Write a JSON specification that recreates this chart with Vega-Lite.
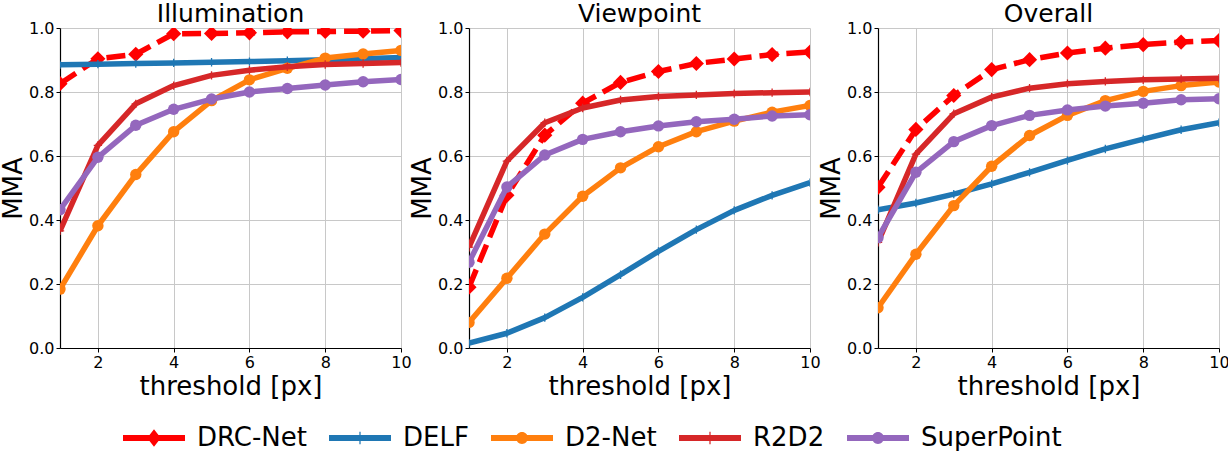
{
  "$schema": "https://vega.github.io/schema/vega-lite/v6.json",
  "background": "white",
  "padding": {"left": 0, "top": 2, "right": 0, "bottom": 0},
  "bounds": "flush",
  "spacing": 68,
  "data": {"values": [
    {"panel":"Illumination","method":"DRC-Net","x":1,"mma":0.826},{"panel":"Illumination","method":"DRC-Net","x":2,"mma":0.904},{"panel":"Illumination","method":"DRC-Net","x":3,"mma":0.918},{"panel":"Illumination","method":"DRC-Net","x":4,"mma":0.982},{"panel":"Illumination","method":"DRC-Net","x":5,"mma":0.983},{"panel":"Illumination","method":"DRC-Net","x":6,"mma":0.985},{"panel":"Illumination","method":"DRC-Net","x":7,"mma":0.988},{"panel":"Illumination","method":"DRC-Net","x":8,"mma":0.989},{"panel":"Illumination","method":"DRC-Net","x":9,"mma":0.99},{"panel":"Illumination","method":"DRC-Net","x":10,"mma":0.992},
    {"panel":"Illumination","method":"DELF","x":1,"mma":0.885},{"panel":"Illumination","method":"DELF","x":2,"mma":0.887},{"panel":"Illumination","method":"DELF","x":3,"mma":0.889},{"panel":"Illumination","method":"DELF","x":4,"mma":0.891},{"panel":"Illumination","method":"DELF","x":5,"mma":0.893},{"panel":"Illumination","method":"DELF","x":6,"mma":0.895},{"panel":"Illumination","method":"DELF","x":7,"mma":0.898},{"panel":"Illumination","method":"DELF","x":8,"mma":0.901},{"panel":"Illumination","method":"DELF","x":9,"mma":0.904},{"panel":"Illumination","method":"DELF","x":10,"mma":0.908},
    {"panel":"Illumination","method":"D2-Net","x":1,"mma":0.184},{"panel":"Illumination","method":"D2-Net","x":2,"mma":0.382},{"panel":"Illumination","method":"D2-Net","x":3,"mma":0.542},{"panel":"Illumination","method":"D2-Net","x":4,"mma":0.676},{"panel":"Illumination","method":"D2-Net","x":5,"mma":0.773},{"panel":"Illumination","method":"D2-Net","x":6,"mma":0.838},{"panel":"Illumination","method":"D2-Net","x":7,"mma":0.874},{"panel":"Illumination","method":"D2-Net","x":8,"mma":0.906},{"panel":"Illumination","method":"D2-Net","x":9,"mma":0.919},{"panel":"Illumination","method":"D2-Net","x":10,"mma":0.93},
    {"panel":"Illumination","method":"R2D2","x":1,"mma":0.366},{"panel":"Illumination","method":"R2D2","x":2,"mma":0.633},{"panel":"Illumination","method":"R2D2","x":3,"mma":0.763},{"panel":"Illumination","method":"R2D2","x":4,"mma":0.82},{"panel":"Illumination","method":"R2D2","x":5,"mma":0.852},{"panel":"Illumination","method":"R2D2","x":6,"mma":0.868},{"panel":"Illumination","method":"R2D2","x":7,"mma":0.879},{"panel":"Illumination","method":"R2D2","x":8,"mma":0.886},{"panel":"Illumination","method":"R2D2","x":9,"mma":0.889},{"panel":"Illumination","method":"R2D2","x":10,"mma":0.892},
    {"panel":"Illumination","method":"SuperPoint","x":1,"mma":0.432},{"panel":"Illumination","method":"SuperPoint","x":2,"mma":0.596},{"panel":"Illumination","method":"SuperPoint","x":3,"mma":0.696},{"panel":"Illumination","method":"SuperPoint","x":4,"mma":0.746},{"panel":"Illumination","method":"SuperPoint","x":5,"mma":0.778},{"panel":"Illumination","method":"SuperPoint","x":6,"mma":0.8},{"panel":"Illumination","method":"SuperPoint","x":7,"mma":0.811},{"panel":"Illumination","method":"SuperPoint","x":8,"mma":0.822},{"panel":"Illumination","method":"SuperPoint","x":9,"mma":0.832},{"panel":"Illumination","method":"SuperPoint","x":10,"mma":0.839},
    {"panel":"Viewpoint","method":"DRC-Net","x":1,"mma":0.19},{"panel":"Viewpoint","method":"DRC-Net","x":2,"mma":0.477},{"panel":"Viewpoint","method":"DRC-Net","x":3,"mma":0.665},{"panel":"Viewpoint","method":"DRC-Net","x":4,"mma":0.765},{"panel":"Viewpoint","method":"DRC-Net","x":5,"mma":0.83},{"panel":"Viewpoint","method":"DRC-Net","x":6,"mma":0.864},{"panel":"Viewpoint","method":"DRC-Net","x":7,"mma":0.889},{"panel":"Viewpoint","method":"DRC-Net","x":8,"mma":0.903},{"panel":"Viewpoint","method":"DRC-Net","x":9,"mma":0.917},{"panel":"Viewpoint","method":"DRC-Net","x":10,"mma":0.925},
    {"panel":"Viewpoint","method":"DELF","x":1,"mma":0.015},{"panel":"Viewpoint","method":"DELF","x":2,"mma":0.046},{"panel":"Viewpoint","method":"DELF","x":3,"mma":0.095},{"panel":"Viewpoint","method":"DELF","x":4,"mma":0.158},{"panel":"Viewpoint","method":"DELF","x":5,"mma":0.229},{"panel":"Viewpoint","method":"DELF","x":6,"mma":0.302},{"panel":"Viewpoint","method":"DELF","x":7,"mma":0.37},{"panel":"Viewpoint","method":"DELF","x":8,"mma":0.43},{"panel":"Viewpoint","method":"DELF","x":9,"mma":0.477},{"panel":"Viewpoint","method":"DELF","x":10,"mma":0.517},
    {"panel":"Viewpoint","method":"D2-Net","x":1,"mma":0.08},{"panel":"Viewpoint","method":"D2-Net","x":2,"mma":0.218},{"panel":"Viewpoint","method":"D2-Net","x":3,"mma":0.356},{"panel":"Viewpoint","method":"D2-Net","x":4,"mma":0.474},{"panel":"Viewpoint","method":"D2-Net","x":5,"mma":0.563},{"panel":"Viewpoint","method":"D2-Net","x":6,"mma":0.629},{"panel":"Viewpoint","method":"D2-Net","x":7,"mma":0.676},{"panel":"Viewpoint","method":"D2-Net","x":8,"mma":0.709},{"panel":"Viewpoint","method":"D2-Net","x":9,"mma":0.737},{"panel":"Viewpoint","method":"D2-Net","x":10,"mma":0.758},
    {"panel":"Viewpoint","method":"R2D2","x":1,"mma":0.315},{"panel":"Viewpoint","method":"R2D2","x":2,"mma":0.584},{"panel":"Viewpoint","method":"R2D2","x":3,"mma":0.704},{"panel":"Viewpoint","method":"R2D2","x":4,"mma":0.75},{"panel":"Viewpoint","method":"R2D2","x":5,"mma":0.775},{"panel":"Viewpoint","method":"R2D2","x":6,"mma":0.786},{"panel":"Viewpoint","method":"R2D2","x":7,"mma":0.791},{"panel":"Viewpoint","method":"R2D2","x":8,"mma":0.795},{"panel":"Viewpoint","method":"R2D2","x":9,"mma":0.798},{"panel":"Viewpoint","method":"R2D2","x":10,"mma":0.8},
    {"panel":"Viewpoint","method":"SuperPoint","x":1,"mma":0.268},{"panel":"Viewpoint","method":"SuperPoint","x":2,"mma":0.503},{"panel":"Viewpoint","method":"SuperPoint","x":3,"mma":0.603},{"panel":"Viewpoint","method":"SuperPoint","x":4,"mma":0.652},{"panel":"Viewpoint","method":"SuperPoint","x":5,"mma":0.676},{"panel":"Viewpoint","method":"SuperPoint","x":6,"mma":0.694},{"panel":"Viewpoint","method":"SuperPoint","x":7,"mma":0.707},{"panel":"Viewpoint","method":"SuperPoint","x":8,"mma":0.715},{"panel":"Viewpoint","method":"SuperPoint","x":9,"mma":0.725},{"panel":"Viewpoint","method":"SuperPoint","x":10,"mma":0.729},
    {"panel":"Overall","method":"DRC-Net","x":1,"mma":0.502},{"panel":"Overall","method":"DRC-Net","x":2,"mma":0.683},{"panel":"Overall","method":"DRC-Net","x":3,"mma":0.789},{"panel":"Overall","method":"DRC-Net","x":4,"mma":0.87},{"panel":"Overall","method":"DRC-Net","x":5,"mma":0.901},{"panel":"Overall","method":"DRC-Net","x":6,"mma":0.922},{"panel":"Overall","method":"DRC-Net","x":7,"mma":0.937},{"panel":"Overall","method":"DRC-Net","x":8,"mma":0.948},{"panel":"Overall","method":"DRC-Net","x":9,"mma":0.956},{"panel":"Overall","method":"DRC-Net","x":10,"mma":0.961},
    {"panel":"Overall","method":"DELF","x":1,"mma":0.432},{"panel":"Overall","method":"DELF","x":2,"mma":0.453},{"panel":"Overall","method":"DELF","x":3,"mma":0.481},{"panel":"Overall","method":"DELF","x":4,"mma":0.513},{"panel":"Overall","method":"DELF","x":5,"mma":0.549},{"panel":"Overall","method":"DELF","x":6,"mma":0.586},{"panel":"Overall","method":"DELF","x":7,"mma":0.622},{"panel":"Overall","method":"DELF","x":8,"mma":0.653},{"panel":"Overall","method":"DELF","x":9,"mma":0.682},{"panel":"Overall","method":"DELF","x":10,"mma":0.704},
    {"panel":"Overall","method":"D2-Net","x":1,"mma":0.126},{"panel":"Overall","method":"D2-Net","x":2,"mma":0.293},{"panel":"Overall","method":"D2-Net","x":3,"mma":0.445},{"panel":"Overall","method":"D2-Net","x":4,"mma":0.568},{"panel":"Overall","method":"D2-Net","x":5,"mma":0.664},{"panel":"Overall","method":"D2-Net","x":6,"mma":0.727},{"panel":"Overall","method":"D2-Net","x":7,"mma":0.773},{"panel":"Overall","method":"D2-Net","x":8,"mma":0.802},{"panel":"Overall","method":"D2-Net","x":9,"mma":0.82},{"panel":"Overall","method":"D2-Net","x":10,"mma":0.831},
    {"panel":"Overall","method":"R2D2","x":1,"mma":0.33},{"panel":"Overall","method":"R2D2","x":2,"mma":0.606},{"panel":"Overall","method":"R2D2","x":3,"mma":0.732},{"panel":"Overall","method":"R2D2","x":4,"mma":0.784},{"panel":"Overall","method":"R2D2","x":5,"mma":0.812},{"panel":"Overall","method":"R2D2","x":6,"mma":0.826},{"panel":"Overall","method":"R2D2","x":7,"mma":0.833},{"panel":"Overall","method":"R2D2","x":8,"mma":0.838},{"panel":"Overall","method":"R2D2","x":9,"mma":0.841},{"panel":"Overall","method":"R2D2","x":10,"mma":0.843},
    {"panel":"Overall","method":"SuperPoint","x":1,"mma":0.345},{"panel":"Overall","method":"SuperPoint","x":2,"mma":0.549},{"panel":"Overall","method":"SuperPoint","x":3,"mma":0.645},{"panel":"Overall","method":"SuperPoint","x":4,"mma":0.695},{"panel":"Overall","method":"SuperPoint","x":5,"mma":0.727},{"panel":"Overall","method":"SuperPoint","x":6,"mma":0.744},{"panel":"Overall","method":"SuperPoint","x":7,"mma":0.756},{"panel":"Overall","method":"SuperPoint","x":8,"mma":0.765},{"panel":"Overall","method":"SuperPoint","x":9,"mma":0.776},{"panel":"Overall","method":"SuperPoint","x":10,"mma":0.779}
  ]},
  "facet": {
    "column": {
      "field": "panel", "type": "nominal",
      "sort": ["Illumination", "Viewpoint", "Overall"],
      "header": {"title": null, "labelFontSize": 25, "labelFont": "DejaVu Sans", "labelColor": "black", "labelPadding": 1}
    }
  },
  "resolve": {"axis": {"y": "independent", "x": "independent"}},
  "spec": {
    "width": 341,
    "height": 320,
    "encoding": {
      "x": {
        "field": "x", "type": "quantitative",
        "scale": {"domain": [1, 10], "nice": false, "zero": false},
        "axis": {"title": "threshold [px]", "values": [2, 4, 6, 8, 10]}
      },
      "y": {
        "field": "mma", "type": "quantitative",
        "scale": {"domain": [0, 1], "nice": false},
        "axis": {"title": "MMA", "values": [0, 0.2, 0.4, 0.6, 0.8, 1.0], "format": ".1f"}
      }
    },
    "layer": [
      {
        "transform": [{"filter": "datum.mma > 5"}],
        "mark": {"type": "point", "filled": true, "opacity": 1, "size": 3844},
        "encoding": {
          "color": {
            "field": "method", "type": "nominal",
            "scale": {"domain": ["DRC-Net", "DELF", "D2-Net", "R2D2", "SuperPoint"], "range": ["#ff0000", "#1f77b4", "#ff7f0e", "#d62728", "#9467bd"]},
            "legend": {
              "title": null, "orient": "none", "legendX": 63, "legendY": 379, "direction": "horizontal",
              "labelFontSize": 26, "labelFont": "DejaVu Sans", "labelColor": "black",
              "labelOffset": 12, "columnPadding": 22, "symbolSize": 3844, "symbolStrokeWidth": 0,
              "symbolOpacity": 1
            }
          },
          "shape": {
            "field": "method", "type": "nominal",
            "scale": {
              "domain": ["DRC-Net", "DELF", "D2-Net", "R2D2", "SuperPoint"],
              "range": [
                "M-1,-0.1L1,-0.1L1,0.1L-1,0.1ZM0,-0.28L0.22,0L0,0.28L-0.22,0Z",
                "M-1,-0.1L1,-0.1L1,0.1L-1,0.1ZM-0.02,-0.2L0.02,-0.2L0.02,0.2L-0.02,0.2Z",
                "M-1,-0.1L1,-0.1L1,0.1L-1,0.1ZM-0.19,0A0.19,0.19 0 1,1 0.19,0A0.19,0.19 0 1,1 -0.19,0Z",
                "M-1,-0.1L1,-0.1L1,0.1L-1,0.1ZM-0.02,-0.2L0.02,-0.2L0.02,0.2L-0.02,0.2Z",
                "M-1,-0.1L1,-0.1L1,0.1L-1,0.1ZM-0.19,0A0.19,0.19 0 1,1 0.19,0A0.19,0.19 0 1,1 -0.19,0Z"
              ]
            },
            "legend": {"title": null}
          }
        }
      },
      {
        "transform": [{"filter": "datum.method === 'DRC-Net'"}],
        "mark": {"type": "line", "color": "#ff0000", "strokeWidth": 5.5, "strokeDash": [19, 8], "clip": true, "strokeJoin": "round"}
      },
      {
        "transform": [{"filter": "datum.method === 'DRC-Net'"}],
        "mark": {"type": "point", "shape": "diamond", "filled": true, "color": "#ff0000", "size": 230, "opacity": 1, "clip": true}
      },
      {
        "transform": [{"filter": "datum.method === 'DELF'"}],
        "mark": {"type": "line", "color": "#1f77b4", "strokeWidth": 5.5, "clip": true, "strokeJoin": "round"}
      },
      {
        "transform": [{"filter": "datum.method === 'DELF'"}],
        "mark": {"type": "point", "shape": "M-1,0L1,0M0,-1L0,1", "filled": false, "color": "#1f77b4", "size": 70, "strokeWidth": 1.3, "opacity": 1, "clip": true}
      },
      {
        "transform": [{"filter": "datum.method === 'D2-Net'"}],
        "mark": {"type": "line", "color": "#ff7f0e", "strokeWidth": 5.5, "clip": true, "strokeJoin": "round"}
      },
      {
        "transform": [{"filter": "datum.method === 'D2-Net'"}],
        "mark": {"type": "point", "shape": "circle", "filled": true, "color": "#ff7f0e", "size": 130, "opacity": 1, "clip": true}
      },
      {
        "transform": [{"filter": "datum.method === 'R2D2'"}],
        "mark": {"type": "line", "color": "#d62728", "strokeWidth": 5.5, "clip": true, "strokeJoin": "round"}
      },
      {
        "transform": [{"filter": "datum.method === 'R2D2'"}],
        "mark": {"type": "point", "shape": "M-1,0L1,0M0,-1L0,1", "filled": false, "color": "#d62728", "size": 70, "strokeWidth": 1.3, "opacity": 1, "clip": true}
      },
      {
        "transform": [{"filter": "datum.method === 'SuperPoint'"}],
        "mark": {"type": "line", "color": "#9467bd", "strokeWidth": 5.5, "clip": true, "strokeJoin": "round"}
      },
      {
        "transform": [{"filter": "datum.method === 'SuperPoint'"}],
        "mark": {"type": "point", "shape": "circle", "filled": true, "color": "#9467bd", "size": 130, "opacity": 1, "clip": true}
      }
    ]
  },
  "config": {
    "font": "DejaVu Sans",
    "view": {"stroke": null},
    "axis": {
      "labelFont": "DejaVu Sans", "labelFontSize": 16, "labelColor": "black",
      "titleFont": "DejaVu Sans", "titleFontSize": 26, "titleFontWeight": "normal", "titleColor": "black",
      "domainColor": "black", "domainWidth": 1.2, "tickColor": "black", "tickSize": 4, "tickWidth": 1,
      "gridColor": "#c8c8c8", "gridWidth": 1, "labelPadding": 2
    },
    "axisX": {"titlePadding": 3, "labelFlush": false},
    "axisY": {"titlePadding": 2}
  }
}
